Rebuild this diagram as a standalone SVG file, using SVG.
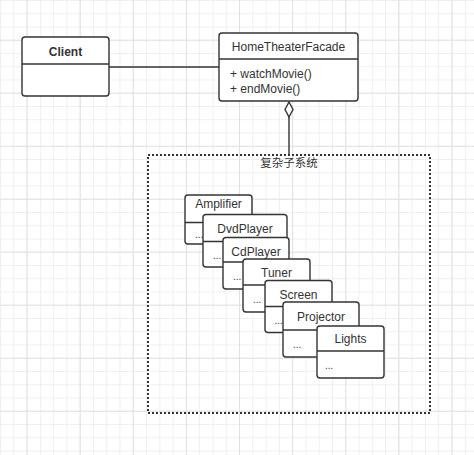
<svg xmlns="http://www.w3.org/2000/svg" width="474" height="455" viewBox="0 0 474 455">
<defs>
<pattern id="gridMinor" patternUnits="userSpaceOnUse" x="0" y="0" width="13.28" height="13.25">
<rect x="0" y="0" width="0.8" height="13.25" fill="#ececec"/>
<rect x="0" y="0" width="13.28" height="0.8" fill="#ececec"/>
</pattern>
<pattern id="gridMajorX" patternUnits="userSpaceOnUse" x="26.56" y="0" width="53.12" height="455">
<rect x="0" y="0" width="0.9" height="455" fill="#e0e0e0"/>
</pattern>
<pattern id="gridMajorY" patternUnits="userSpaceOnUse" x="0" y="39.75" width="474" height="53">
<rect x="0" y="0" width="474" height="0.9" fill="#e0e0e0"/>
</pattern>
</defs>
<style>
.box{fill:#ffffff;stroke:#333333;stroke-width:1.4}
.div{stroke:#333333;stroke-width:1.4}
.line{stroke:#333333;stroke-width:1.4;fill:none}
.t{font-family:"Liberation Sans",Arial,sans-serif;font-size:12px;fill:#333333}
.c{text-anchor:middle}
.dots{font-family:"Liberation Sans",Arial,sans-serif;font-size:10px;fill:#333333}
.cjk{font-family:"Liberation Sans","Noto Sans CJK SC",sans-serif;font-size:11.5px;fill:#333333;text-anchor:middle}
</style>
<rect x="0" y="0" width="474" height="455" fill="#ffffff"/>
<rect x="0" y="0" width="474" height="455" fill="url(#gridMinor)"/>
<rect x="0" y="0" width="474" height="455" fill="url(#gridMajorX)"/>
<rect x="0" y="0" width="474" height="455" fill="url(#gridMajorY)"/>

<g id="connectors">
<line class="line" x1="109" y1="67" x2="219" y2="67"/>
<line class="line" x1="289" y1="117" x2="289" y2="155"/>
<polygon points="289,102 293,109.5 289,117 285,109.5" fill="#ffffff" stroke="#333333" stroke-width="1.4"/>
</g>

<g id="client">
<rect class="box" x="22" y="37" width="87" height="59" rx="3"/>
<line class="div" x1="22" y1="64" x2="109" y2="64"/>
<text class="t c" x="65.5" y="56" font-weight="bold">Client</text>
</g>

<g id="facade">
<rect class="box" x="219" y="33" width="139" height="68" rx="3"/>
<line class="div" x1="219" y1="59" x2="358" y2="59"/>
<text class="t c" x="288.5" y="50.5">HomeTheaterFacade</text>
<text class="t" x="230" y="77.5">+ watchMovie()</text>
<text class="t" x="230" y="92.5">+ endMovie()</text>
</g>

<g id="subsystem">
<rect x="148" y="155" width="282" height="258" fill="none" stroke="#333333" stroke-width="2" stroke-dasharray="2 2"/>
<text class="cjk" x="289" y="167">复杂子系统</text>
</g>

<g id="amplifier">
<rect class="box" x="185" y="195" width="67" height="49" rx="3"/>
<line class="div" x1="185" y1="222.5" x2="252" y2="222.5"/>
<text class="t c" x="218.5" y="207.8">Amplifier</text>
<text class="dots" x="195" y="237.5">...</text>
</g>

<g id="dvdplayer">
<rect class="box" x="203" y="214.5" width="84" height="52.5" rx="3"/>
<line class="div" x1="203" y1="241.5" x2="287" y2="241.5"/>
<text class="t c" x="245" y="233">DvdPlayer</text>
<text class="dots" x="213" y="258.5">...</text>
</g>

<g id="cdplayer">
<rect class="box" x="223" y="237.5" width="66" height="51.5" rx="3"/>
<line class="div" x1="223" y1="262" x2="289" y2="262"/>
<text class="t c" x="256" y="255.5">CdPlayer</text>
<text class="dots" x="233" y="280">...</text>
</g>

<g id="tuner">
<rect class="box" x="243" y="259" width="67" height="53" rx="3"/>
<line class="div" x1="243" y1="285" x2="310" y2="285"/>
<text class="t c" x="276.5" y="277">Tuner</text>
<text class="dots" x="253" y="302.5">...</text>
</g>

<g id="screen">
<rect class="box" x="265" y="280.5" width="67" height="52" rx="3"/>
<line class="div" x1="265" y1="306.5" x2="332" y2="306.5"/>
<text class="t c" x="298.5" y="298.5">Screen</text>
<text class="dots" x="274.5" y="324">...</text>
</g>

<g id="projector">
<rect class="box" x="283" y="302" width="76" height="55" rx="3"/>
<line class="div" x1="283" y1="330" x2="359" y2="330"/>
<text class="t c" x="321" y="321">Projector</text>
<text class="dots" x="293" y="348">...</text>
</g>

<g id="lights">
<rect class="box" x="317" y="326" width="67" height="52" rx="3"/>
<line class="div" x1="317" y1="351" x2="384" y2="351"/>
<text class="t c" x="350.5" y="343">Lights</text>
<text class="dots" x="325" y="369">...</text>
</g>
</svg>
